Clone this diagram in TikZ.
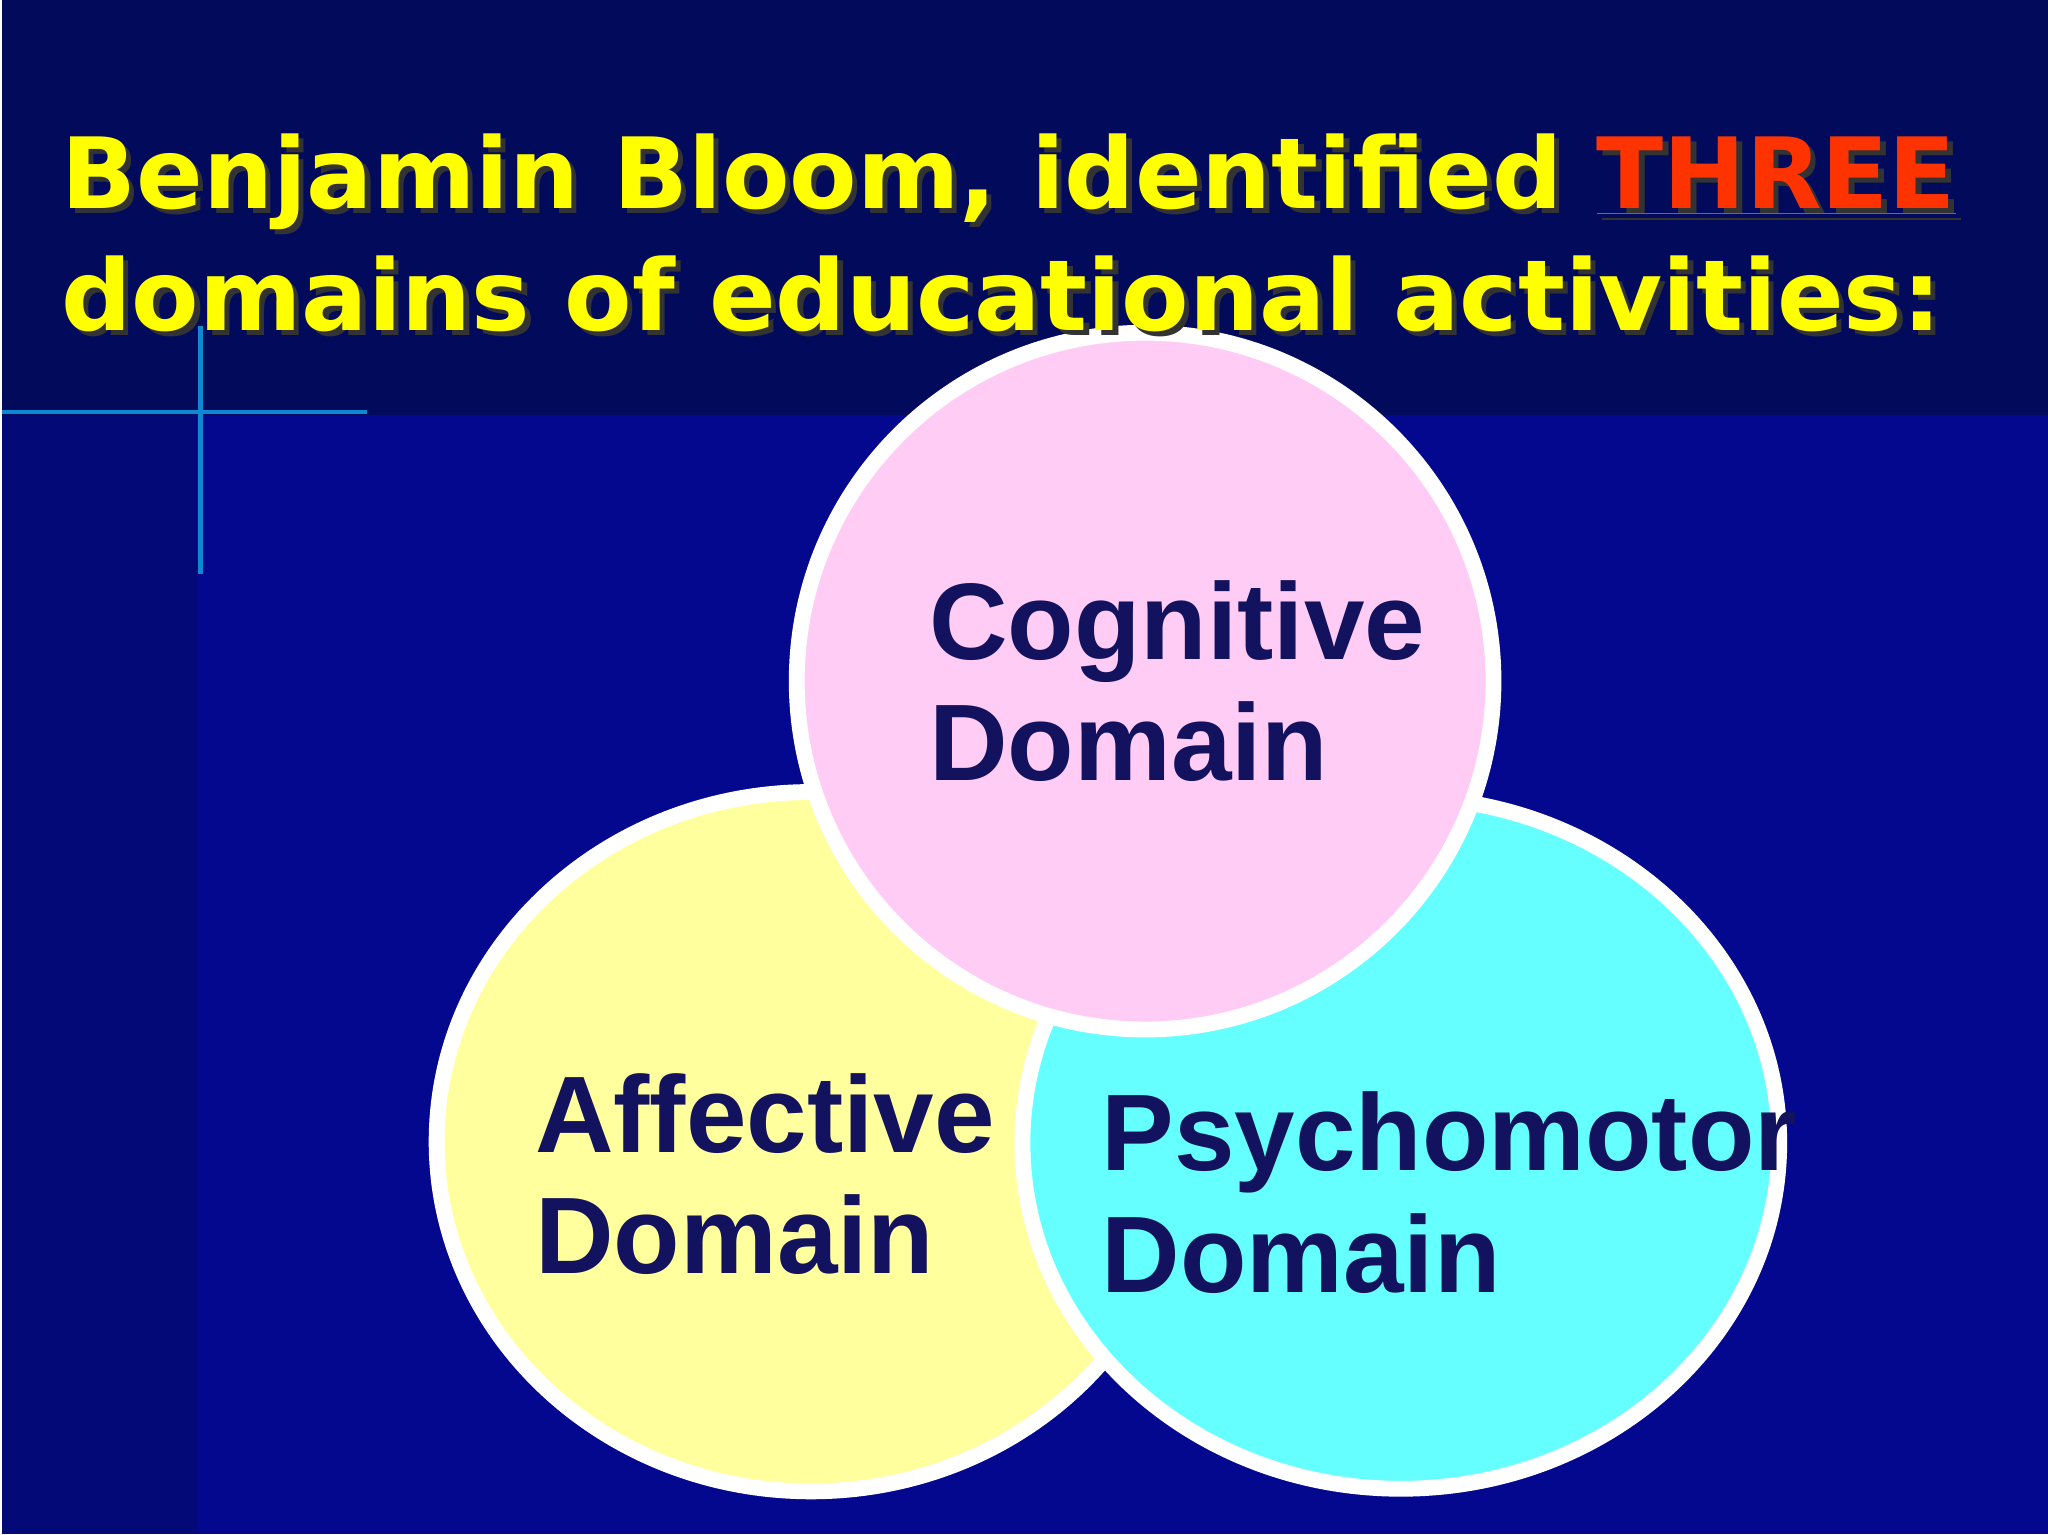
\documentclass[tikz,border=0pt]{standalone}
\usepackage{fontspec}
\setmainfont{DejaVu Sans}
\newfontfamily\labelfont{Liberation Sans}
\usetikzlibrary{positioning}
\definecolor{navytop}{HTML}{020A5C}
\definecolor{navylow}{HTML}{03088F}
\definecolor{navyleft}{HTML}{030A78}
\definecolor{titleyellow}{HTML}{FFFF00}
\definecolor{threered}{HTML}{FF3300}
\definecolor{textnavy}{HTML}{12125E}
\definecolor{cogpink}{HTML}{FFCCF5}
\definecolor{affyellow}{HTML}{FFFF9E}
\definecolor{psycyan}{HTML}{66FFFF}
\tikzset{
	domain disc/.style={draw=white,line width=4.5pt},
	title text/.style={anchor=base west,inner sep=0pt,font=\fontsize{28}{34}\selectfont\bfseries},
	domain text/.style={anchor=west,align=left,inner sep=0pt,text=textnavy,
		font=\labelfont\fontsize{31}{34.5}\selectfont\bfseries}
}
\begin{document}
\begin{tikzpicture}[x=0.01306cm,y=-0.01306cm]
	% background
	\fill[navylow] (0,0) rectangle (1568,1176);
	\fill[navyleft] (0,318) rectangle (150,1176);
	\fill[navytop] (0,0) rectangle (1568,318);
	\draw[cyan!70!blue,line width=1.2pt] (0,316) -- (280,316);
	\draw[cyan!70!blue,line width=1.2pt] (152,250) -- (152,440);
	% domains
	\path[domain disc,fill=affyellow] (620,875) ellipse [x radius=287,y radius=268];
	\path[domain disc,fill=psycyan] (1072,876) ellipse [x radius=290,y radius=265];
	\path[domain disc,fill=cogpink] (876,522) ellipse [x radius=267,y radius=267];
	% labels
	\node[domain text] (cog) at (710,522) {Cognitive\\Domain};
	\node[domain text] (aff) at (408,900) {Affective\\Domain};
	\node[domain text] (psy) at (842,914) {Psychomotor\\Domain};
	% title with shadow
	\node[title text,text=black!80] at (49,164) {Benjamin Bloom, identified \underline{THREE}};
	\node[title text,text=black!80] at (49,257) {domains of educational activities:};
	\node[title text,text=titleyellow] (line1) at (45,160) {Benjamin Bloom, identified {\color{threered}\underline{THREE}}};
	\node[title text,text=titleyellow] (line2) at (45,253) {domains of educational activities:};
\end{tikzpicture}
\end{document}
